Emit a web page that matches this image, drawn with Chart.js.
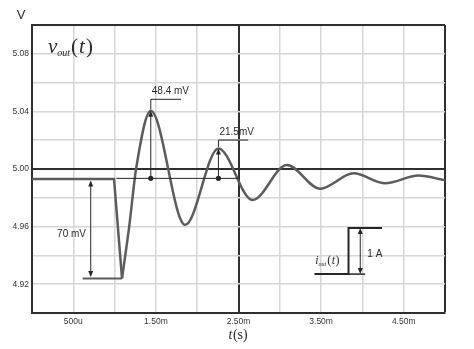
<!DOCTYPE html>
<html>
<head>
<meta charset="utf-8">
<script src="https://cdn.jsdelivr.net/npm/chart.js@4.4.0/dist/chart.umd.min.js"></script>
<style>
  body { margin: 0; background: #fff; }
</style>
</head>
<body>
<canvas id="chart" width="474" height="349"></canvas>
<script>
// time in ms, voltage in V
var dropTime = [0, 0.993, 1.090];
var dropVolt = [4.993, 4.993, 4.924];

var ringTime = [1.090, 1.179, 1.260, 1.438, 1.854, 2.257, 2.670, 3.086, 3.489, 3.893, 4.277, 4.680, 5.0];
var ringVolt = [4.924, 4.961, 5.000, 5.0404, 4.9612, 5.0143, 4.9785, 5.0028, 4.9863, 4.9970, 4.9901, 4.9954, 4.9922];

// load current step, drawn on the same axes
var stepTime = [3.420, 3.832, 3.832, 4.237];
var stepLevel = [4.927, 4.927, 4.959, 4.959];

var xTickValues = [0.5, 1.5, 2.5, 3.5, 4.5];
var xTickLabels = ["500u", "1.50m", "2.50m", "3.50m", "4.50m"];
var yTickLabels = ["4.92", "4.96", "5.00", "5.04", "5.08"];

var settleLevel = 4.9935;
var peakTime = [1.438, 2.257];
var peakVolt = [5.0404, 5.0143];
var peakText = ["48.4 mV", "21.5mV"];
var dipText = "70 mV";
var stepText = "1 A";

function near(a, b) { return Math.abs(a - b) < 1e-6; }
function pts(xs, ys) { return xs.map(function(t, i){ return {x: t, y: ys[i]}; }); }

var SANS = '"Liberation Sans", Arial, sans-serif';
var SERIF = '"Liberation Serif", "Times New Roman", serif';
var DARK = '#262626';

var notes = {
  id: 'notes',
  afterDatasetsDraw: function(chart) {
    var c = chart.ctx, sx = chart.scales.x, sy = chart.scales.y, area = chart.chartArea;
    function px(t) { return sx.getPixelForValue(t); }
    function py(v) { return sy.getPixelForValue(v); }
    function seg(t1, v1, t2, v2, w, col) {
      c.beginPath();
      c.lineWidth = w; c.strokeStyle = col || DARK;
      c.moveTo(px(t1), py(v1)); c.lineTo(px(t2), py(v2));
      c.stroke();
    }
    function head(t, v, dir) { // dir -1 points up, 1 points down
      var x = px(t), y = py(v);
      c.beginPath();
      c.fillStyle = DARK;
      c.moveTo(x, y); c.lineTo(x - 2.5, y - dir * 6); c.lineTo(x + 2.5, y - dir * 6);
      c.closePath(); c.fill();
    }
    function dot(t, v) {
      c.beginPath(); c.fillStyle = DARK;
      c.arc(px(t), py(v), 2.6, 0, Math.PI * 2); c.fill();
    }
    function text(s, x, y, font, align) {
      c.font = font; c.fillStyle = '#2a2a2a';
      c.textAlign = align || 'left'; c.textBaseline = 'alphabetic';
      c.fillText(s, x, y);
      return c.measureText(s).width;
    }
    c.save();

    // steady level reference
    seg(1.02, settleLevel, 2.5, settleLevel, 1);

    // overshoot peaks
    for (var i = 0; i < peakTime.length; i++) {
      var top = peakVolt[i] + (i === 0 ? 0.0080 : 0.0058);
      var end = i === 0 ? 1.805 : 2.617;
      seg(peakTime[i], settleLevel, peakTime[i], peakVolt[i] - 0.002, 1);
      head(peakTime[i], peakVolt[i], -1);
      seg(peakTime[i], peakVolt[i] + 0.001, peakTime[i], top, 1);
      seg(peakTime[i], top, end, top, 1);
      dot(peakTime[i], settleLevel);
      text(peakText[i], px(peakTime[i]) + 1, py(top) - 5, '10px ' + SANS);
    }

    // undershoot
    seg(0.614, ringVolt[0], 1.09, ringVolt[0], 2, '#5c5c5c');
    seg(0.711, dropVolt[0] - 0.002, 0.711, ringVolt[0] + 0.002, 1);
    head(0.711, dropVolt[0] - 0.001, -1);
    head(0.711, ringVolt[0] + 0.001, 1);
    text(dipText, px(0.479), py(4.9558) + 4, '10px ' + SANS, 'center');

    // current step
    seg(3.832, stepLevel[0], 4.034, stepLevel[0], 1.5, DARK);
    seg(3.974, stepLevel[0] + 0.002, 3.974, stepLevel[2] - 0.002, 1);
    head(3.974, stepLevel[2], -1);
    head(3.974, stepLevel[0], 1);
    text(stepText, px(4.06), py(4.9419) + 4, '10px ' + SANS);

    var ix = px(3.428), iy = py(4.9368) + 4;
    ix += text('i', ix, iy, 'italic 12px ' + SERIF);
    ix += text('out', ix, iy + 2, 'italic 6px ' + SERIF) + 1;
    ix += text('(', ix, iy, '12px ' + SERIF) + 0.5;
    ix += text('t', ix, iy, 'italic 12px ' + SERIF) + 0.5;
    text(')', ix, iy, '12px ' + SERIF);

    // v_out(t) label
    var vx = area.left + 16, vy = area.top + 28;
    vx += text('v', vx, vy, 'italic 21px ' + SERIF);
    vx += text('out', vx, vy + 3, 'italic 10px ' + SERIF) + 1;
    vx += text('(', vx, vy, '21px ' + SERIF) + 1;
    vx += text('t', vx, vy, 'italic 21px ' + SERIF) + 1;
    text(')', vx, vy, '21px ' + SERIF);

    // axis names
    text('V', 21, 19, '13px ' + SANS, 'center');
    var tx = px(2.5) - 10, ty = area.bottom + 26;
    tx += text('t', tx, ty, 'italic 14px ' + SERIF) + 0.5;
    text('(s)', tx, ty, '14px ' + SERIF);

    c.restore();
  }
};

function gridColor(marks) {
  return function(ctx) {
    var v = ctx.tick ? ctx.tick.value : null;
    return marks.some(function(m){ return near(m, v); }) ? '#2f2f2f' : '#d6d6d6';
  };
}
function gridWidth(marks) {
  return function(ctx) {
    var v = ctx.tick ? ctx.tick.value : null;
    return marks.some(function(m){ return near(m, v); }) ? 2 : 1.5;
  };
}

new Chart(document.getElementById('chart'), {
  type: 'line',
  data: {
    datasets: [
      {
        label: 'vout drop',
        data: pts(dropTime, dropVolt),
        borderColor: '#5c5c5c',
        borderWidth: 2.5,
        pointRadius: 0,
        tension: 0
      },
      {
        label: 'vout',
        data: pts(ringTime, ringVolt),
        borderColor: '#5c5c5c',
        borderWidth: 2.5,
        pointRadius: 0,
        cubicInterpolationMode: 'monotone'
      },
      {
        label: 'iout',
        data: pts(stepTime, stepLevel),
        borderColor: DARK,
        borderWidth: 2,
        pointRadius: 0,
        tension: 0
      }
    ]
  },
  options: {
    responsive: false,
    animation: false,
    layout: { padding: { top: 25, right: 29, left: 0, bottom: 0 } },
    plugins: { legend: { display: false }, tooltip: { enabled: false } },
    scales: {
      x: {
        type: 'linear',
        min: 0, max: 5,
        afterFit: function(s) { s.height = 36; },
        border: { display: true, color: '#2f2f2f', width: 2 },
        grid: { color: gridColor([2.5, 5]), lineWidth: gridWidth([2.5, 5]), drawTicks: false },
        ticks: {
          stepSize: 0.5, autoSkip: false, maxRotation: 0, padding: 4,
          color: '#333', font: { family: SANS, size: 8.5 },
          callback: function(value) {
            var i = xTickValues.findIndex(function(t){ return near(t, value); });
            return i < 0 ? '' : xTickLabels[i];
          }
        }
      },
      y: {
        min: 4.9, max: 5.1,
        afterFit: function(s) { s.width = 32; },
        border: { display: true, color: '#2f2f2f', width: 2 },
        grid: { color: gridColor([5.0, 5.1]), lineWidth: gridWidth([5.0, 5.1]), drawTicks: false },
        ticks: {
          stepSize: 0.02, autoSkip: false, padding: 3,
          color: '#333', font: { family: SANS, size: 8.5 },
          callback: function(value) {
            var i = yTickLabels.findIndex(function(l){ return near(parseFloat(l), value); });
            return i < 0 ? '' : yTickLabels[i];
          }
        }
      }
    }
  },
  plugins: [notes]
});
</script>
</body>
</html>
